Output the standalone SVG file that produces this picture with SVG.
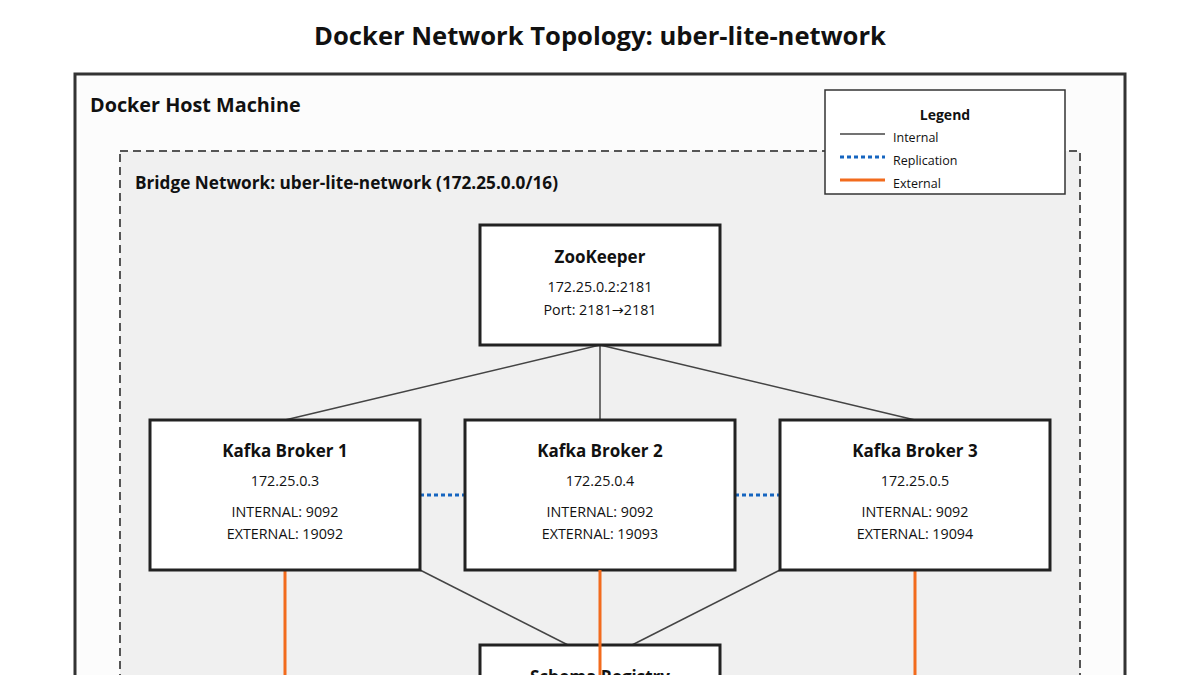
<svg xmlns="http://www.w3.org/2000/svg" width="1200" height="675" viewBox="0 0 1200 675">
<style>
text{font-family:"Open Sans","Noto Sans","DejaVu Sans",sans-serif;fill:#111}
.title{font-size:25.6px;font-weight:bold;text-anchor:middle}
.h{font-size:19.8px;font-weight:bold}
.bh{font-size:17.2px;font-weight:bold}
.nt{font-size:17px;font-weight:bold;text-anchor:middle}
.ns{font-size:14.3px;text-anchor:middle}
.lg{font-size:12.5px}
.node{fill:#fff;stroke:#222;stroke-width:3}
.int{stroke:#444;stroke-width:1.5;fill:none}
.rep{stroke:#1565c0;stroke-width:3;stroke-dasharray:4,3;fill:none}
.ext{stroke:#f26b1d;stroke-width:3;fill:none}
</style>
<rect width="1200" height="675" fill="#fff"/>
<text class="title" x="600" y="45">Docker Network Topology: uber-lite-network</text>
<g id="host">
<rect x="75" y="74" width="1050" height="640" fill="#fcfcfc" stroke="#333" stroke-width="3"/>
<text class="h" x="90" y="112">Docker Host Machine</text>
</g>
<g id="bridge">
<rect x="120" y="151" width="960" height="560" fill="#f0f0f0" stroke="#555" stroke-width="2" stroke-dasharray="8,5"/>
<text class="bh" x="135" y="189">Bridge Network: uber-lite-network (172.25.0.0/16)</text>
</g>
<g id="legend">
<rect x="825" y="90" width="240" height="104" fill="#fff" stroke="#333" stroke-width="1.5"/>
<text x="945" y="120" style="font-size:14px;font-weight:bold;text-anchor:middle">Legend</text>
<line x1="840" y1="134" x2="885" y2="134" class="int"/>
<line x1="840" y1="157" x2="885" y2="157" class="rep"/>
<line x1="840" y1="180" x2="885" y2="180" class="ext"/>
<text class="lg" x="893" y="142">Internal</text>
<text class="lg" x="893" y="165">Replication</text>
<text class="lg" x="893" y="188">External</text>
</g>
<g id="connectors">
<line x1="600" y1="345" x2="285" y2="420" class="int"/>
<line x1="600" y1="345" x2="600" y2="420" class="int"/>
<line x1="600" y1="345" x2="915" y2="420" class="int"/>
<line x1="420" y1="570" x2="568" y2="645" class="int"/>
<line x1="780" y1="570" x2="632" y2="645" class="int"/>
<line x1="420" y1="495" x2="465" y2="495" class="rep"/>
<line x1="735" y1="495" x2="780" y2="495" class="rep"/>
<line x1="285" y1="570" x2="285" y2="680" class="ext"/>
<line x1="915" y1="570" x2="915" y2="680" class="ext"/>
</g>
<g id="zookeeper">
<rect class="node" x="480" y="225" width="240" height="120"/>
<text class="nt" x="600" y="263">ZooKeeper</text>
<text class="ns" x="600" y="292">172.25.0.2:2181</text>
<text class="ns" x="600" y="315">Port: 2181→2181</text>
</g>
<g id="broker1">
<rect class="node" x="150" y="420" width="270" height="150"/>
<text class="nt" x="285" y="457">Kafka Broker 1</text>
<text class="ns" x="285" y="486">172.25.0.3</text>
<text class="ns" x="285" y="517">INTERNAL: 9092</text>
<text class="ns" x="285" y="539">EXTERNAL: 19092</text>
</g>
<g id="broker2">
<rect class="node" x="465" y="420" width="270" height="150"/>
<text class="nt" x="600" y="457">Kafka Broker 2</text>
<text class="ns" x="600" y="486">172.25.0.4</text>
<text class="ns" x="600" y="517">INTERNAL: 9092</text>
<text class="ns" x="600" y="539">EXTERNAL: 19093</text>
</g>
<g id="broker3">
<rect class="node" x="780" y="420" width="270" height="150"/>
<text class="nt" x="915" y="457">Kafka Broker 3</text>
<text class="ns" x="915" y="486">172.25.0.5</text>
<text class="ns" x="915" y="517">INTERNAL: 9092</text>
<text class="ns" x="915" y="539">EXTERNAL: 19094</text>
</g>
<g id="schema-registry">
<rect class="node" x="480" y="645" width="240" height="120"/>
<text class="nt" x="600" y="683">Schema Registry</text>
</g>
<g id="connectors-ext">
<line x1="600" y1="570" x2="600" y2="680" class="ext"/>
</g>
</svg>
